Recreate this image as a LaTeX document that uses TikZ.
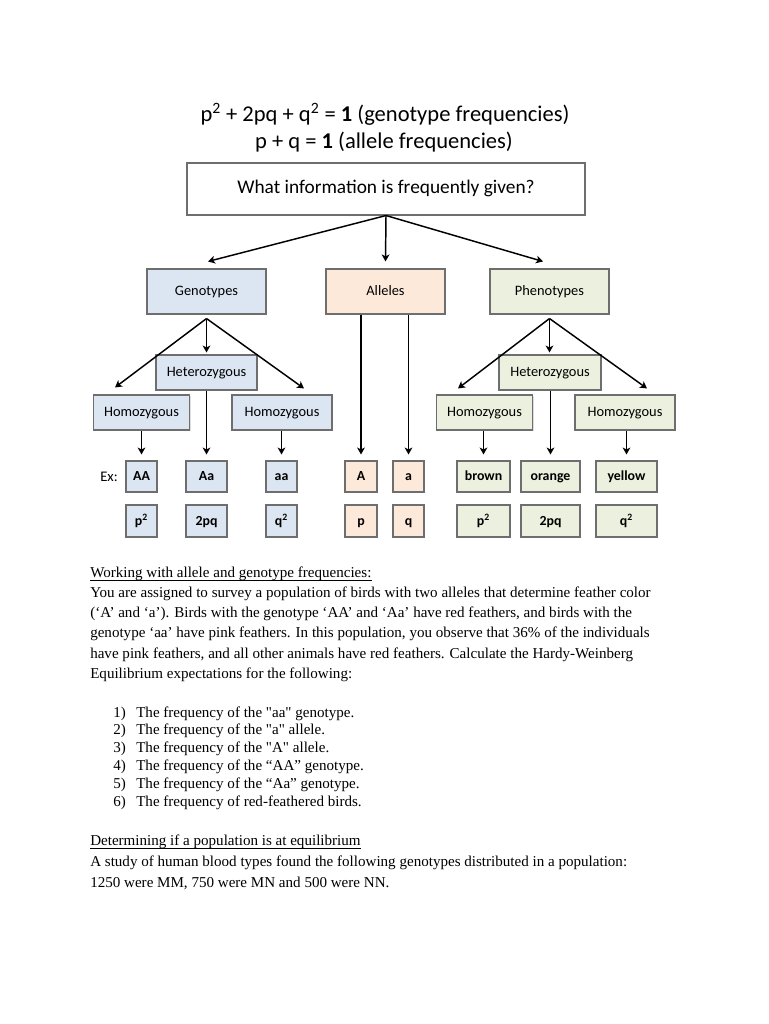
\documentclass[tikz,border=0pt]{standalone}
\usepackage{fontspec}
\setmainfont{Liberation Serif}
\newfontfamily\cali{Carlito}
\usetikzlibrary{arrows.meta,calc,shadows}
\definecolor{genofill}{HTML}{DCE6F2}
\definecolor{allefill}{HTML}{FDE9D9}
\definecolor{phenofill}{HTML}{EBF1DE}
\definecolor{boxline}{HTML}{6E6E6E}
\tikzset{
  box/.style={draw=boxline, line width=0.8pt, inner sep=0pt,
    font=\cali\fontsize{10.8}{12}\selectfont,
    text height=0.75em, text depth=0.15em,
    drop shadow={shadow xshift=0.8pt, shadow yshift=-0.8pt, opacity=0.25}},
  bx/.style 2 args={box, minimum width=#1*0.75pt, minimum height=#2*0.75pt},
  sm/.style={font=\cali\bfseries\fontsize{10.4}{12}\selectfont},
  arr/.style={-{Stealth[length=5.2pt,width=5.8pt,inset=1.4pt]}, line width=1.1pt},
  body/.style={anchor=base west, inner sep=0pt, font=\fontsize{11.3}{13}\selectfont},
  uline/.style={line width=0.6pt},
  ttl/.style={anchor=base, inner sep=0pt, font=\cali\fontsize{16.9}{20}\selectfont}
}
\begin{document}
\begin{tikzpicture}[x=0.75pt,y=-0.75pt]
\useasboundingbox[fill=white] (0,0) rectangle (768,1024);

% titles
\node[ttl] (t1) at (385,122) {p\textsuperscript{2} + 2pq + q\textsuperscript{2} = \textbf{1} (genotype frequencies)};
\node[ttl] (t2) at (384,148) {p + q = \textbf{1} (allele frequencies)};

% top box
\node[bx={398}{52}, fill=white, font=\cali\fontsize{14.5}{16}\selectfont] (top) at (386,189) {What information is frequently given?};

% level 1
\node[bx={119}{45}, fill=genofill] (geno) at (206.5,291.5) {Genotypes};
\node[bx={119}{45}, fill=allefill] (alle) at (385.5,291.5) {Alleles};
\node[bx={119}{45}, fill=phenofill] (phen) at (549.5,291.5) {Phenotypes};

% level 2
\node[bx={101}{35}, fill=genofill] (ghet) at (206.5,372.5) {Heterozygous};
\node[bx={96}{35}, fill=genofill] (ghoL) at (141.5,412.5) {Homozygous};
\node[bx={100}{35}, fill=genofill] (ghoR) at (282,412.5) {Homozygous};
\node[bx={102}{35}, fill=phenofill] (phet) at (550,372.5) {Heterozygous};
\node[bx={96}{35}, fill=phenofill] (phoL) at (484.5,412.5) {Homozygous};
\node[bx={100}{35}, fill=phenofill] (phoR) at (625,412.5) {Homozygous};

% examples
\node[font=\cali\fontsize{11}{13}\selectfont, inner sep=0pt] (ex) at (109,477) {Ex:};
\node[bx={31}{31}, fill=genofill, sm] (AA) at (141.5,476.5) {AA};
\node[bx={41}{31}, fill=genofill, sm] (Aa) at (206.5,476.5) {Aa};
\node[bx={31}{31}, fill=genofill, sm] (aa) at (281.5,476.5) {aa};
\node[bx={32}{31}, fill=allefill, sm] (alA) at (361,476.5) {A};
\node[bx={31}{31}, fill=allefill, sm] (ala) at (408.5,476.5) {a};
\node[bx={53}{31}, fill=phenofill, sm] (brown) at (483.5,476.5) {brown};
\node[bx={59}{31}, fill=phenofill, sm] (orange) at (550.5,476.5) {orange};
\node[bx={61}{31}, fill=phenofill, sm] (yellow) at (626.5,476.5) {yellow};

% frequencies
\node[bx={31}{32}, fill=genofill, sm] (fAA) at (141.5,521) {p\textsuperscript{2}};
\node[bx={41}{32}, fill=genofill, sm] (fAa) at (206.5,521) {2pq};
\node[bx={31}{32}, fill=genofill, sm] (faa) at (281.5,521) {q\textsuperscript{2}};
\node[bx={32}{32}, fill=allefill, sm] (fA) at (361,521) {p};
\node[bx={31}{32}, fill=allefill, sm] (fa) at (408.5,521) {q};
\node[bx={53}{32}, fill=phenofill, sm] (fbrown) at (483.5,521) {p\textsuperscript{2}};
\node[bx={59}{32}, fill=phenofill, sm] (forange) at (550.5,521) {2pq};
\node[bx={61}{32}, fill=phenofill, sm] (fyellow) at (626.5,521) {q\textsuperscript{2}};

% connectors from top
\draw[arr] (top.south) -- ($(geno.north)+(1.5,-7)$);
\draw[arr] (top.south) -- ($(alle.north)+(0,-7)$);
\draw[arr] (top.south) -- ($(phen.north)+(-6.5,-7)$);

% genotype branches
\coordinate (gfork) at ($(geno.south)+(0,4)$);
\draw[arr] (gfork) -- ($(ghoL.north)+(-26.5,-7)$);
\draw[arr] (gfork) -- ($(ghet.north)+(0,-2)$);
\draw[arr] (gfork) -- ($(ghoR.north)+(22,-6)$);
% phenotype branches
\coordinate (pfork) at ($(phen.south)+(0,4)$);
\draw[arr] (pfork) -- ($(phoL.north)+(-26.5,-6)$);
\draw[arr] (pfork) -- ($(phet.north)+(-0.5,-2)$);
\draw[arr] (pfork) -- ($(phoR.north)+(22,-6)$);

% verticals
\draw[arr] (ghoL.south) -- ($(AA.north)+(0,-6)$);
\draw[arr] (ghet.south) -- ($(Aa.north)+(0,-6)$);
\draw[arr] (ghoR.south -| aa.north) -- ($(aa.north)+(0,-6)$);
\draw[arr] (alle.south -| alA.north) -- ($(alA.north)+(0,-6)$);
\draw[arr] (alle.south -| ala.north) -- ($(ala.north)+(0,-6)$);
\draw[arr] (phoL.south -| brown.north) -- ($(brown.north)+(0,-6)$);
\draw[arr] (phet.south -| orange.north) -- ($(orange.north)+(0,-6)$);
\draw[arr] (phoR.south -| yellow.north) -- ($(yellow.north)+(0,-6)$);

% body text
\node[body] (p1) at (90,577) {Working with allele and genotype frequencies:};
\draw[uline] ($(p1.base west)+(0,3)$) -- ($(p1.base east)+(0,3)$);
\node[body] (p2) at (90,597.3) {You are assigned to survey a population of birds with two alleles that determine feather color};
\node[body] (p3) at (90,617.6) {(‘A’ and ‘a’). Birds with the genotype ‘AA’ and ‘Aa’ have red feathers, and birds with the};
\node[body] (p4) at (90,637.9) {genotype ‘aa’ have pink feathers. In this population, you observe that 36\% of the individuals};
\node[body] (p5) at (90,658.2) {have pink feathers, and all other animals have red feathers. Calculate the Hardy-Weinberg};
\node[body] (p6) at (90,678.5) {Equilibrium expectations for the following:};

\node[body] (n1) at (113,717) {1)};
\node[body] (l1) at (136,717) {The frequency of the \textquotedbl aa\textquotedbl{} genotype.};
\node[body] (n2) at (113,734.8) {2)};
\node[body] (l2) at (136,734.8) {The frequency of the \textquotedbl a\textquotedbl{} allele.};
\node[body] (n3) at (113,752.6) {3)};
\node[body] (l3) at (136,752.6) {The frequency of the \textquotedbl A\textquotedbl{} allele.};
\node[body] (n4) at (113,770.4) {4)};
\node[body] (l4) at (136,770.4) {The frequency of the “AA” genotype.};
\node[body] (n5) at (113,788.2) {5)};
\node[body] (l5) at (136,788.2) {The frequency of the “Aa” genotype.};
\node[body] (n6) at (113,806) {6)};
\node[body] (l6) at (136,806) {The frequency of red-feathered birds.};

\node[body] (q1) at (90,845) {Determining if a population is at equilibrium};
\draw[uline] ($(q1.base west)+(0,3)$) -- ($(q1.base east)+(0,3)$);
\node[body] (q2) at (90,866.5) {A study of human blood types found the following genotypes distributed in a population:};
\node[body] (q3) at (90,887) {1250 were MM, 750 were MN and 500 were NN.};
\end{tikzpicture}
\end{document}
